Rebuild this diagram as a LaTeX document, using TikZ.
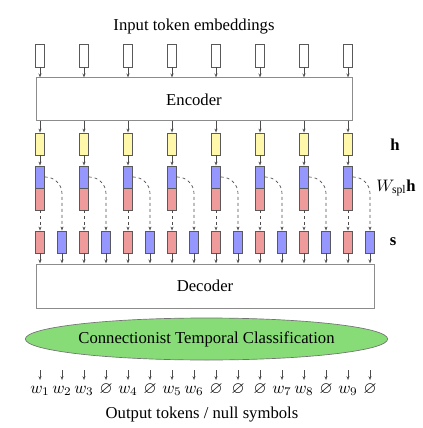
\documentclass[tikz,border=0pt]{standalone}
\usepackage{amssymb}
\usepackage{fontspec}
\setmainfont{Liberation Serif}
\usetikzlibrary{arrows.meta,shapes.geometric}
\definecolor{hidyellow}{RGB}{255,248,170}
\definecolor{splblue}{RGB}{150,150,255}
\definecolor{splred}{RGB}{240,155,155}
\definecolor{ctcgreen}{RGB}{135,220,120}
\begin{document}
\begin{tikzpicture}[x=0.6pt,y=-0.6pt]

      \tikzset{cell/.style={draw=black!65, line width=.5pt, inner sep=0pt, minimum width=5.1pt, minimum height=13.2pt},
               emb/.style={cell, fill=white, minimum height=13.8pt},
               hid/.style={cell, fill=hidyellow},
               blu/.style={cell, fill=splblue},
               rd/.style={cell, fill=splred},
               block/.style={draw=black!45, line width=.6pt, inner sep=0pt},
               conn/.style={draw=black!70, line width=.4pt, -{Stealth[length=2.4pt,width=1.8pt,open]}},
               dashconn/.style={conn, dash pattern=on 1.8pt off 1.8pt},
               tok/.style={anchor=base, inner sep=1pt, text height=6.5pt}}
      \useasboundingbox (0,0) rectangle (423,428);

%% Titles and side labels
      	\node (title) at (194,27) {Input token embeddings};
      	\node (foot) at (202,415) {Output tokens / null symbols};
      	\node (hlab) at (395,145) {$\mathbf{h}$};
      	\node (wlab) at (396,188) {$W_{\mathrm{spl}}\mathbf{h}$};
      	\node (slab) at (393,242) {$\mathbf{s}$};

%% Blocks
      	\node[block, minimum width=189.6pt, minimum height=25.8pt] (enc) at (194,99.5) {Encoder};
      	\node[block, minimum width=202.8pt, minimum height=26.4pt] (dec) at (205,286) {Decoder};
      	\node[ellipse, draw=black!55, fill=ctcgreen, inner sep=0pt, minimum width=205.8pt, minimum height=25.2pt] (ctc) at (206.5,339) {Connectionist Temporal Classification};

%% Input embeddings
      	\node[emb] (in1) at (40,55.5) {};
      	\node[emb] (in2) at (84,55.5) {};
      	\node[emb] (in3) at (128,55.5) {};
      	\node[emb] (in4) at (172,55.5) {};
      	\node[emb] (in5) at (216,55.5) {};
      	\node[emb] (in6) at (260,55.5) {};
      	\node[emb] (in7) at (304,55.5) {};
      	\node[emb] (in8) at (348,55.5) {};

%% Hidden states h
      	\node[hid] (h1) at (40,144) {};
      	\node[hid] (h2) at (84,144) {};
      	\node[hid] (h3) at (128,144) {};
      	\node[hid] (h4) at (172,144) {};
      	\node[hid] (h5) at (216,144) {};
      	\node[hid] (h6) at (260,144) {};
      	\node[hid] (h7) at (304,144) {};
      	\node[hid] (h8) at (348,144) {};

%% Split W_spl h (blue half over red half)
      	\node[blu] (b1) at (40,177) {};   \node[rd] (r1) at (40,199) {};
      	\node[blu] (b2) at (84,177) {};   \node[rd] (r2) at (84,199) {};
      	\node[blu] (b3) at (128,177) {};  \node[rd] (r3) at (128,199) {};
      	\node[blu] (b4) at (172,177) {};  \node[rd] (r4) at (172,199) {};
      	\node[blu] (b5) at (216,177) {};  \node[rd] (r5) at (216,199) {};
      	\node[blu] (b6) at (260,177) {};  \node[rd] (r6) at (260,199) {};
      	\node[blu] (b7) at (304,177) {};  \node[rd] (r7) at (304,199) {};
      	\node[blu] (b8) at (348,177) {};  \node[rd] (r8) at (348,199) {};

%% Sequence s
      	\node[rd] (s1) at (40,242) {};
      	\node[blu] (s2) at (62,242) {};
      	\node[rd] (s3) at (84,242) {};
      	\node[blu] (s4) at (106,242) {};
      	\node[rd] (s5) at (128,242) {};
      	\node[blu] (s6) at (150,242) {};
      	\node[rd] (s7) at (172,242) {};
      	\node[blu] (s8) at (194,242) {};
      	\node[rd] (s9) at (216,242) {};
      	\node[blu] (s10) at (238,242) {};
      	\node[rd] (s11) at (260,242) {};
      	\node[blu] (s12) at (282,242) {};
      	\node[rd] (s13) at (304,242) {};
      	\node[blu] (s14) at (326,242) {};
      	\node[rd] (s15) at (348,242) {};
      	\node[blu] (s16) at (370,242) {};

%% Output tokens
      	\node[tok] (o1) at (40,393) {$w_1$};
      	\node[tok] (o2) at (62,393) {$w_2$};
      	\node[tok] (o3) at (84,393) {$w_3$};
      	\node[tok] (o4) at (106,393) {$\varnothing$};
      	\node[tok] (o5) at (128,393) {$w_4$};
      	\node[tok] (o6) at (150,393) {$\varnothing$};
      	\node[tok] (o7) at (172,393) {$w_5$};
      	\node[tok] (o8) at (194,393) {$w_6$};
      	\node[tok] (o9) at (216,393) {$\varnothing$};
      	\node[tok] (o10) at (238,393) {$\varnothing$};
      	\node[tok] (o11) at (260,393) {$\varnothing$};
      	\node[tok] (o12) at (282,393) {$w_7$};
      	\node[tok] (o13) at (304,393) {$w_8$};
      	\node[tok] (o14) at (326,393) {$\varnothing$};
      	\node[tok] (o15) at (348,393) {$w_9$};
      	\node[tok] (o16) at (370,393) {$\varnothing$};

%Edges
		\path (in1) edge[conn] (in1 |- enc.north);
		\path (in2) edge[conn] (in2 |- enc.north);
		\path (in3) edge[conn] (in3 |- enc.north);
		\path (in4) edge[conn] (in4 |- enc.north);
		\path (in5) edge[conn] (in5 |- enc.north);
		\path (in6) edge[conn] (in6 |- enc.north);
		\path (in7) edge[conn] (in7 |- enc.north);
		\path (in8) edge[conn] (in8 |- enc.north);

		\path (h1 |- enc.south) edge[conn] (h1);
		\path (h2 |- enc.south) edge[conn] (h2);
		\path (h3 |- enc.south) edge[conn] (h3);
		\path (h4 |- enc.south) edge[conn] (h4);
		\path (h5 |- enc.south) edge[conn] (h5);
		\path (h6 |- enc.south) edge[conn] (h6);
		\path (h7 |- enc.south) edge[conn] (h7);
		\path (h8 |- enc.south) edge[conn] (h8);

		\path (h1) edge[conn] (b1);
		\path (h2) edge[conn] (b2);
		\path (h3) edge[conn] (b3);
		\path (h4) edge[conn] (b4);
		\path (h5) edge[conn] (b5);
		\path (h6) edge[conn] (b6);
		\path (h7) edge[conn] (b7);
		\path (h8) edge[conn] (b8);

		\path (r1) edge[dashconn] (s1);
		\path (r2) edge[dashconn] (s3);
		\path (r3) edge[dashconn] (s5);
		\path (r4) edge[dashconn] (s7);
		\path (r5) edge[dashconn] (s9);
		\path (r6) edge[dashconn] (s11);
		\path (r7) edge[dashconn] (s13);
		\path (r8) edge[dashconn] (s15);

		\draw[dashconn, rounded corners=10pt] (b1.east) -| (s2.north);
		\draw[dashconn, rounded corners=10pt] (b2.east) -| (s4.north);
		\draw[dashconn, rounded corners=10pt] (b3.east) -| (s6.north);
		\draw[dashconn, rounded corners=10pt] (b4.east) -| (s8.north);
		\draw[dashconn, rounded corners=10pt] (b5.east) -| (s10.north);
		\draw[dashconn, rounded corners=10pt] (b6.east) -| (s12.north);
		\draw[dashconn, rounded corners=10pt] (b7.east) -| (s14.north);
		\draw[dashconn, rounded corners=10pt] (b8.east) -| (s16.north);

		\path (s1) edge[conn] (s1 |- dec.north);
		\path (s2) edge[conn] (s2 |- dec.north);
		\path (s3) edge[conn] (s3 |- dec.north);
		\path (s4) edge[conn] (s4 |- dec.north);
		\path (s5) edge[conn] (s5 |- dec.north);
		\path (s6) edge[conn] (s6 |- dec.north);
		\path (s7) edge[conn] (s7 |- dec.north);
		\path (s8) edge[conn] (s8 |- dec.north);
		\path (s9) edge[conn] (s9 |- dec.north);
		\path (s10) edge[conn] (s10 |- dec.north);
		\path (s11) edge[conn] (s11 |- dec.north);
		\path (s12) edge[conn] (s12 |- dec.north);
		\path (s13) edge[conn] (s13 |- dec.north);
		\path (s14) edge[conn] (s14 |- dec.north);
		\path (s15) edge[conn] (s15 |- dec.north);
		\path (s16) edge[conn] (s16 |- dec.north);

		\path (o1 |- 0,370) edge[conn] (o1.north);
		\path (o2 |- 0,370) edge[conn] (o2.north);
		\path (o3 |- 0,370) edge[conn] (o3.north);
		\path (o4 |- 0,370) edge[conn] (o4.north);
		\path (o5 |- 0,370) edge[conn] (o5.north);
		\path (o6 |- 0,370) edge[conn] (o6.north);
		\path (o7 |- 0,370) edge[conn] (o7.north);
		\path (o8 |- 0,370) edge[conn] (o8.north);
		\path (o9 |- 0,370) edge[conn] (o9.north);
		\path (o10 |- 0,370) edge[conn] (o10.north);
		\path (o11 |- 0,370) edge[conn] (o11.north);
		\path (o12 |- 0,370) edge[conn] (o12.north);
		\path (o13 |- 0,370) edge[conn] (o13.north);
		\path (o14 |- 0,370) edge[conn] (o14.north);
		\path (o15 |- 0,370) edge[conn] (o15.north);
		\path (o16 |- 0,370) edge[conn] (o16.north);
	\end{tikzpicture}
\end{document}
